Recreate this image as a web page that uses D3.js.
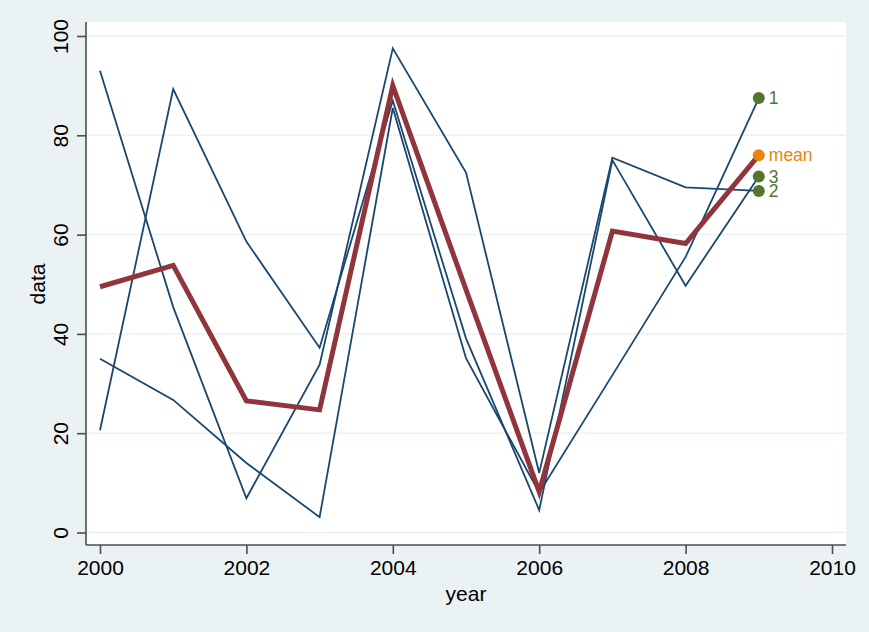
<!DOCTYPE html>
<html>
<head>
<meta charset="utf-8">
<script src="https://cdn.jsdelivr.net/npm/d3@7"></script>
<style>
  body { margin: 0; background: #eaf2f3; }
  svg { display: block; font-family: "Liberation Sans", Arial, sans-serif; }
</style>
</head>
<body>
<div id="chart"></div>
<script>
// values
const years = [2000, 2001, 2002, 2003, 2004, 2005, 2006, 2007, 2008, 2009];
const series1 = [35.0, 26.7, 14.0, 3.1, 85.5, 35.1, 8.0, 31.7, 55.5, 87.5];
const series2 = [93.0, 45.4, 6.9, 33.8, 97.5, 72.5, 12.0, 75.5, 69.5, 68.8];
const series3 = [20.6, 89.3, 58.6, 37.2, 87.0, 39.1, 4.5, 75.0, 49.7, 71.7];
const meanValues = [49.5, 53.8, 26.5, 24.7, 90.0, 48.9, 8.2, 60.7, 58.2, 76.0];
const seriesNames = ["1", "2", "3"];
const xTicks = [2000, 2002, 2004, 2006, 2008, 2010];
const yTicks = [0, 20, 40, 60, 80, 100];

const width = 869;
const height = 632;
const plotLeft = 86, plotRight = 846, plotTop = 22, plotBottom = 545;

const svg = d3.select("#chart").append("svg")
    .attr("width", width)
    .attr("height", height);

svg.append("rect")
    .attr("width", width).attr("height", height)
    .attr("fill", "#eaf2f3");

svg.append("rect")
    .attr("x", plotLeft).attr("y", plotTop)
    .attr("width", plotRight - plotLeft).attr("height", plotBottom - plotTop)
    .attr("fill", "#ffffff");

const xScale = d3.scaleLinear().domain([2000, 2010]).range([100, 832]);
const yScale = d3.scaleLinear().domain([0, 100]).range([532.5, 36]);

// grid
svg.append("g").selectAll("line")
    .data(yTicks)
    .join("line")
    .attr("x1", plotLeft).attr("x2", plotRight)
    .attr("y1", (d) => yScale(d)).attr("y2", (d) => yScale(d))
    .attr("stroke", "#eaf2f3")
    .attr("stroke-width", 1.5);

// axes
const yAxis = svg.append("g")
    .attr("transform", `translate(${plotLeft},0)`)
    .call(d3.axisLeft(yScale).tickValues(yTicks).tickSize(9));
yAxis.select(".domain").attr("d", `M0,${plotTop}V${plotBottom}`);
yAxis.selectAll(".tick text")
    .attr("x", 0)
    .attr("dy", 0)
    .attr("transform", "translate(-18,0) rotate(-90)")
    .attr("text-anchor", "middle");

const xAxis = svg.append("g")
    .attr("transform", `translate(0,${plotBottom})`)
    .call(d3.axisBottom(xScale).tickValues(xTicks).tickFormat(d3.format("d")).tickSize(9).tickPadding(5));
xAxis.select(".domain").attr("d", `M${plotLeft},0H${plotRight}`);

svg.selectAll(".domain, .tick line")
    .attr("stroke", "#4d4d4d")
    .attr("stroke-width", 1.6);
svg.selectAll(".tick text")
    .attr("font-size", 21)
    .attr("font-family", "Liberation Sans, Arial, sans-serif")
    .attr("fill", "#000");
xAxis.selectAll(".tick text").attr("dy", "0.75em");

// axis titles
svg.append("text")
    .attr("transform", "translate(45,284) rotate(-90)")
    .attr("text-anchor", "middle")
    .attr("font-size", 21)
    .text("data");
svg.append("text")
    .attr("x", 466).attr("y", 601)
    .attr("text-anchor", "middle")
    .attr("font-size", 21)
    .text("year");

// lines
const line = d3.line()
    .x((d, i) => xScale(years[i]))
    .y((d) => yScale(d));

const allSeries = [series1, series2, series3];

svg.append("g").selectAll("path")
    .data(allSeries)
    .join("path")
    .attr("d", (d) => line(d))
    .attr("fill", "none")
    .attr("stroke", "#1a476f")
    .attr("stroke-width", 1.8)
    .attr("stroke-linejoin", "miter");

svg.append("path")
    .attr("d", line(meanValues))
    .attr("fill", "none")
    .attr("stroke", "#90353b")
    .attr("stroke-width", 5)
    .attr("stroke-linejoin", "miter");

// end markers and labels
const last = years.length - 1;
const ends = allSeries.map((s, i) => ({ name: seriesNames[i], value: s[last], color: "#55752f" }));
ends.push({ name: "mean", value: meanValues[last], color: "#e8860c" });

const endG = svg.append("g").selectAll("g")
    .data(ends)
    .join("g")
    .attr("transform", (d) => `translate(${xScale(years[last])},${yScale(d.value)})`);

endG.append("circle")
    .attr("r", 6)
    .attr("fill", (d) => d.color);

endG.append("text")
    .attr("x", 10)
    .attr("y", 6)
    .attr("font-size", 17.5)
    .attr("fill", (d) => d.color)
    .text((d) => d.name);
</script>
</body>
</html>
